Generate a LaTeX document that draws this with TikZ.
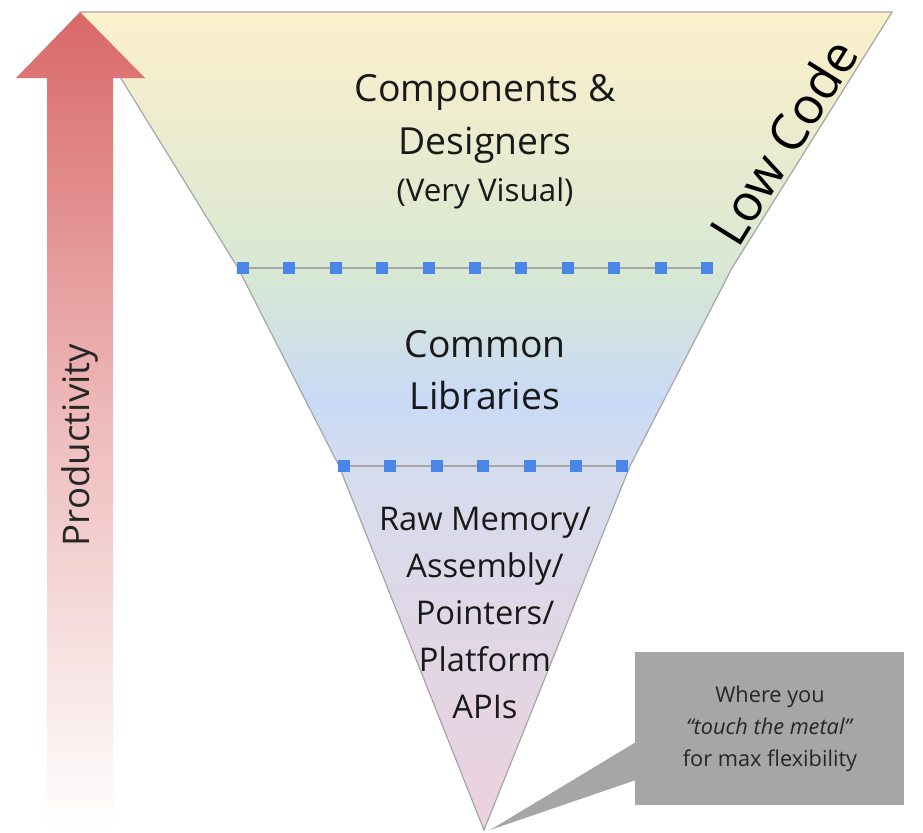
\documentclass[tikz,border=0pt]{standalone}
\usepackage{fontspec}
\setmainfont{Open Sans}
\begin{document}
\begin{tikzpicture}[x=0.75pt,y=-0.75pt,
  dot/.style={fill=sqc, minimum size=9pt, inner sep=0pt, draw=none, rectangle},
  lbl/.style={align=center, font=\fontsize{28}{39}\selectfont, text=black!90},
  sep/.style={draw=black!35, line width=0.8pt}]
\definecolor{sqc}{HTML}{4A86E8}
\definecolor{cY}{HTML}{FDF0CB}
\definecolor{cG}{HTML}{D8E8D3}
\definecolor{cB}{HTML}{C9DAF6}
\definecolor{cL}{HTML}{D5DCEE}
\definecolor{cP}{HTML}{EDD1DD}
\definecolor{arr}{HTML}{D96868}
\useasboundingbox (0,0) rectangle (923,832);
% funnel
\begin{scope}
\clip (80,12) -- (892,12) -- (732,268) -- (630,466) -- (484,830) -- (339,466) -- (238,268) -- cycle;
\shade[top color=cY,bottom color=cG] (0,11) rectangle (923,269);
\shade[top color=cG,bottom color=cB] (0,268) rectangle (923,401);
\shade[top color=cB,bottom color=cL] (0,400) rectangle (923,467);
\shade[top color=cL,bottom color=cP] (0,466) rectangle (923,831);
\end{scope}
\draw[black!35, line width=0.9pt] (80,12) -- (892,12) -- (732,268) -- (630,466) -- (484,830) -- (339,466) -- (238,268) -- cycle;
% separators
\draw[sep] (243,268) -- (707,268);
\draw[sep] (344,466) -- (622,466);
\foreach \i in {0,...,10} \node[dot] (d1\i) at ({243+\i*46.4},268) {};
\foreach \i in {0,...,6} \node[dot] (d2\i) at ({344+\i*46.4},466) {};
% labels
\node[lbl] (t1) at (485,92) {Components \&};
\node[lbl] (t1b) at (485,145) {Designers};
\node[lbl, font=\fontsize{23.5}{30}\selectfont] (t1c) at (485,193) {(Very Visual)};
\node[lbl] (t2) at (485,370) {Common\\Libraries};
\node[lbl, font=\fontsize{24.5}{35.3}\selectfont] (t3) at (485,613) {Raw Memory/\\Assembly/\\Pointers/\\Platform\\APIs};
\node[font=\fontsize{38}{40}\selectfont, rotate=58, inner sep=0pt] (lc) at (783,142) {Low Code};
% arrow
\shade[top color=arr, bottom color=white, middle color=arr!45]
  (47,832) -- (47,78) -- (16,78) -- (80,12) -- (145,78) -- (113,78) -- (113,832) -- cycle;
\node[rotate=90, font=\fontsize{27.5}{30}\selectfont, text=black!85] (prod) at (80,445) {Productivity};
% callout
\fill[black!35] (635,652) rectangle (904,805);
\fill[black!35] (636,742) -- (490,830) -- (636,780) -- cycle;
\node[align=center, font=\fontsize{16.3}{24}\selectfont, text=black!85] (co) at (770,729)
  {Where you\\\textit{“touch the metal”}\\for max flexibility};
\end{tikzpicture}
\end{document}
